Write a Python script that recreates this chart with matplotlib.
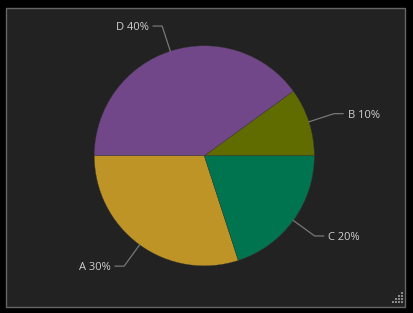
import numpy as np
import matplotlib
matplotlib.use("Agg")
import matplotlib.pyplot as plt
from matplotlib.patches import Rectangle

labels = ["B", "D", "A", "C"]
values = [10, 40, 30, 20]
colors = ["#606b00", "#714789", "#bf9426", "#00734f"]

W, H = 413, 313
fig = plt.figure(figsize=(W / 100, H / 100), dpi=100, facecolor="#000000")
ax = fig.add_axes([0, 0, 1, 1])
ax.set_xlim(0, W)
ax.set_ylim(0, H)
ax.set_aspect("equal")
ax.axis("off")

# panel
ax.add_patch(Rectangle((5.5, H - 306.5), 399, 299, facecolor="#222222",
                       edgecolor="#666666", linewidth=1, zorder=0))

cx, cy, r = 204.3, H - 155.8, 110
total = sum(values)
wedges, _ = ax.pie(values, colors=colors, startangle=0, counterclock=True,
                   radius=r, center=(cx, cy), frame=True,
                   wedgeprops=dict(linewidth=0.25, edgecolor="#3a3a3a"))
ax.set_xlim(0, W)
ax.set_ylim(0, H)
ax.axis("off")

for w, lab, v in zip(wedges, labels, values):
    ang = np.deg2rad((w.theta1 + w.theta2) / 2)
    x0, y0 = cx + r * np.cos(ang), cy + r * np.sin(ang)
    x1, y1 = cx + 1.24 * r * np.cos(ang), cy + 1.24 * r * np.sin(ang)
    side = 1 if np.cos(ang) >= 0 else -1
    x2 = x1 + side * 9
    ax.plot([x0, x1, x2], [y0, y1, y1], color="#777777", linewidth=0.9, zorder=3)
    ax.text(x2 + side * 4.5, y1 - 1.8, f"{lab} {round(100 * v / total)}%",
            ha="left" if side > 0 else "right", va="center",
            color="#cfcfcf", fontsize=8, family="Open Sans", zorder=4)

# resize grip
for i in range(4):
    for j in range(4 - i):
        gx = 402 - 3 * j
        gy = 302 - 3 * i
        ax.add_patch(Rectangle((gx - 1, H - gy - 1), 2, 2,
                               facecolor="#8a8a8a", edgecolor="none", zorder=5))

fig.savefig("out.png", dpi=100, facecolor=fig.get_facecolor())
